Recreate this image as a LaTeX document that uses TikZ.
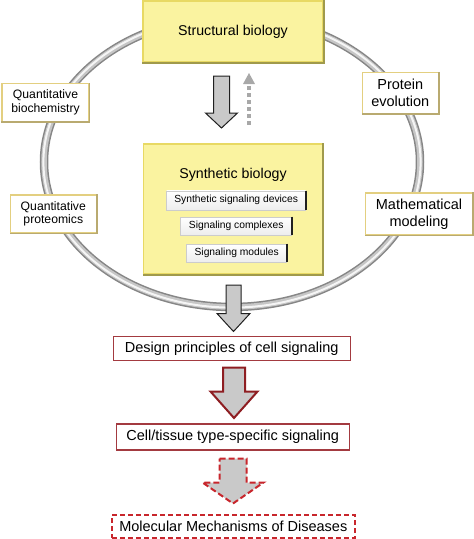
\documentclass[tikz,border=0pt]{standalone}
\usepackage{fontspec}
\setmainfont{Liberation Sans}
\usetikzlibrary{calc}
\definecolor{yfill}{HTML}{FAF3A0}
\definecolor{yedge}{HTML}{E8D964}
\definecolor{ydark}{HTML}{A09A4C}
\definecolor{sedge}{HTML}{E3CF80}
\definecolor{sdark}{HTML}{B9AA70}
\definecolor{dred}{HTML}{A33A40}
\definecolor{ared}{HTML}{8E1E22}
\definecolor{dashred}{HTML}{C8262C}
\definecolor{agray}{HTML}{C9C9C9}
\definecolor{dotgray}{HTML}{A8A8A8}
\newcommand\blockarrow[6][]{%
  \path[#1] let \p1=(#2), \p2=(#3) in
    (\x1-#4pt,\y1) -- (\x1+#4pt,\y1) -- (\x1+#4pt,\y2+#6pt) -- (\x1+#5pt,\y2+#6pt)
    -- (\x1,\y2) -- (\x1-#5pt,\y2+#6pt) -- (\x1-#4pt,\y2+#6pt) -- cycle;}
\begin{document}
\begin{tikzpicture}[x=1pt,y=-1pt,
  ybox/.style={rectangle, fill=yfill, draw=yedge, line width=1.2pt, inner sep=0pt},
  ytitle/.style={font=\fontsize{14.2}{16}\selectfont, inner sep=0pt},
  sidebox/.style={rectangle, fill=white, draw=sedge, line width=1.2pt, align=center, inner sep=0pt},
  smallside/.style={sidebox, font=\fontsize{12.2}{13.6}\selectfont},
  bigside/.style={sidebox, font=\fontsize{14.5}{17}\selectfont},
  subbox/.style={rectangle, top color=white, bottom color=gray!14, draw=gray!40, line width=0.6pt, inner sep=0pt, font=\fontsize{10.3}{12}\selectfont},
  redbox/.style={rectangle, fill=white, draw=dred, line width=1.3pt, inner sep=0pt, font=\fontsize{14.5}{16}\selectfont},
  dashbox/.style={rectangle, fill=white, draw=dashred, line width=1.6pt, dash pattern=on 5pt off 3pt, inner sep=0pt, font=\fontsize{14.5}{16}\selectfont},
  ydarkedge/.style={draw=ydark, line width=2pt},
  sdarkedge/.style={draw=sdark, line width=1.4pt},
  subedge/.style={draw=gray!25!black, line width=1.5pt},
  grayarrow/.style={fill=agray, draw=gray!25!black, line width=1pt, line join=miter},
  redarrow/.style={fill=agray, draw=ared, line width=2pt, line join=miter},
  dasharrow/.style={fill=agray, draw=dashred, line width=2pt, dash pattern=on 6pt off 3pt},
  ring1/.style={draw=gray!95, line width=8.5pt},
  ring2/.style={draw=gray!45, line width=5.5pt},
  ring3/.style={draw=gray!8, line width=2pt}
]
\useasboundingbox (0,0) rectangle (474,539);

% ring
\draw[ring1] (232,162) ellipse [x radius=188pt, y radius=145pt];
\draw[ring2] (232,162) ellipse [x radius=188pt, y radius=145pt];
\draw[ring3] (232,162) ellipse [x radius=188.6pt, y radius=145.6pt];

% structural biology
\node[ybox, minimum width=180pt, minimum height=61pt] (sb) at (233,31.5) {};
\draw[ydarkedge] (sb.north east) -- (sb.south east) -- (sb.south west);
\node[ytitle] (sbt) at (233,32) {Structural biology};

% synthetic biology
\node[ybox, minimum width=179pt, minimum height=130pt] (syn) at (233,209) {};
\draw[ydarkedge] (syn.north east) -- (syn.south east) -- (syn.south west);
\node[ytitle] (synt) at (233,175) {Synthetic biology};
\node[subbox, minimum width=139pt, minimum height=19pt] (sd) at (236.2,200.3) {Synthetic signaling devices};
\draw[subedge] (sd.north east) -- (sd.south east);
\node[subbox, minimum width=111pt, minimum height=18pt] (sc) at (236.2,226) {Signaling complexes};
\draw[subedge] (sc.north east) -- (sc.south east);
\node[subbox, minimum width=100pt, minimum height=18pt] (sm) at (236.7,253) {Signaling modules};
\draw[subedge] (sm.north east) -- (sm.south east);

% side boxes
\node[smallside, minimum width=87pt, minimum height=38pt] (qb) at (45.5,102.5) {Quantitative\\biochemistry};
\draw[sdarkedge] (qb.north east) -- (qb.south east) -- (qb.south west);
\node[smallside, minimum width=86pt, minimum height=38pt] (qp) at (53.3,214) {Quantitative\\proteomics};
\draw[sdarkedge] (qp.north east) -- (qp.south east) -- (qp.south west);
\node[bigside, minimum width=76pt, minimum height=41pt] (pe) at (400.3,93) {Protein\\evolution};
\draw[sdarkedge] (pe.north east) -- (pe.south east) -- (pe.south west);
\node[bigside, minimum width=107pt, minimum height=42pt] (mm) at (419,214) {Mathematical\\modeling};
\draw[sdarkedge] (mm.north east) -- (mm.south east) -- (mm.south west);

% arrows between structural and synthetic
\coordinate (a1t) at (221.5,76);
\coordinate (a1b) at (221.5,128);
\blockarrow[grayarrow]{a1t}{a1b}{8}{16}{15}
\coordinate (d1) at (249,125);
\coordinate (d2) at (249,84);
\coordinate (d3) at (249,73);
\draw[dotgray, line width=4pt, dash pattern=on 4pt off 3pt] (d1) -- (d2);
\fill[dotgray] ($(d2)+(-6,0)$) -- ($(d2)+(6,0)$) -- (d3) -- cycle;

% bottom chain
\node[redbox, minimum width=237pt, minimum height=24pt] (dp) at (231.7,348.5) {Design principles of cell signaling};
\node[redbox, minimum width=233pt, minimum height=26pt] (ct) at (232.7,437) {Cell/tissue type-specific signaling};
\node[dashbox, minimum width=243pt, minimum height=23pt] (mol) at (233.3,526.5) {Molecular Mechanisms of Diseases};

\coordinate (a3t) at (233.5,285);
\coordinate (a3b) at (233.5,331.5);
\blockarrow[grayarrow]{a3t}{a3b}{7.5}{16.5}{18}
\coordinate (a4t) at (234,367.5);
\coordinate (a4b) at (234,418);
\blockarrow[redarrow]{a4t}{a4b}{11}{23.5}{26.5}
\coordinate (a5t) at (233,458.5);
\coordinate (a5b) at (233,503.5);
\blockarrow[dasharrow]{a5t}{a5b}{13.5}{30.5}{21}
\end{tikzpicture}
\end{document}
